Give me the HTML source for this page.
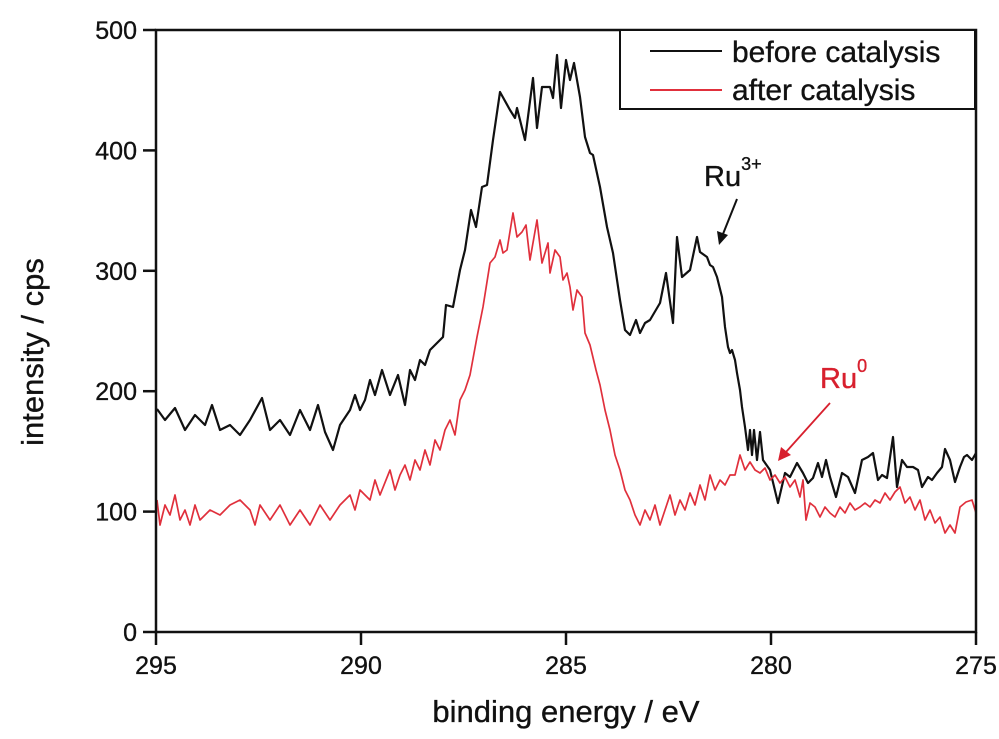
<!DOCTYPE html>
<html>
<head>
<meta charset="utf-8">
<style>
  html,body{margin:0;padding:0;background:#fff;}
  svg{display:block;}
  text{font-family:"Liberation Sans",Arial,sans-serif;fill:#111;stroke:#111;stroke-width:0.35px;}
</style>
</head>
<body>
<svg width="999" height="739" viewBox="0 0 999 739" xmlns="http://www.w3.org/2000/svg">
  <rect width="999" height="739" fill="#fff"/>

  <!-- series: before catalysis -->
  <polyline fill="none" stroke="#111" stroke-width="2.2" stroke-linejoin="round" points="157,409 165,420 175,408 185,430 195,415 205,425 212,405 220,430 230,425 240,435 250,420 262,398 270,430 280,420 290,435 300,410 310,430 318,405 325,432 333,450 340,425 350,410 355,395 360,410 365,400 370,380 375,395 382,370 390,395 398,375 405,405 410,370 415,380 420,360 425,365 430,350 435,345 440,340 443,337 446,305 453,307 460,270 465,250 471,210 476,227 482,187 487,185 493,140 500,92 510,110 515,118 517,108 525,140 533,78 537,128 542,87 550,87 553,98 557,55 561,108 566,60 570,80 574,63 580,97 585,137 590,153 593,155 600,187 607,227 613,253 620,300 625,330 630,335 636,320 640,333 645,323 650,320 660,303 666,273 673,323 677,237 682,277 690,270 697,237 700,252 707,257 710,265 713,267 717,277 722,297 725,327 728,347 730,353 732,350 735,360 737,373 740,390 742,407 745,427 748,450 750,430 752,455 754,430 757,460 760,432 763,460 770,470 778,503 785,473 790,477 797,463 803,473 808,483 813,478 818,463 822,477 826,460 830,477 836,497 842,473 848,477 855,493 862,460 868,457 873,453 878,480 882,475 887,478 893,437 897,487 902,460 907,467 913,467 918,470 922,487 928,477 932,480 937,473 942,467 945,449 950,460 955,482 960,467 964,457 967,455 972,460 976,453"/>

  <!-- series: after catalysis -->
  <polyline fill="none" stroke="#e0303c" stroke-width="1.7" stroke-linejoin="round" points="157,500 160,525 165,505 170,515 175,495 180,520 185,510 190,525 195,505 200,520 210,510 220,515 230,505 240,500 250,510 255,525 260,505 270,520 280,505 290,525 300,510 310,525 320,505 330,520 340,505 350,495 355,510 360,490 370,500 375,480 380,495 390,470 395,490 400,475 405,465 410,480 415,460 420,470 425,450 430,465 435,440 440,450 445,430 450,420 455,435 460,400 465,390 470,375 477,337 483,307 490,263 495,257 500,240 503,253 507,250 513,213 517,237 522,232 526,225 530,260 537,220 542,263 548,243 550,273 555,250 560,257 563,280 567,273 570,287 573,310 577,290 582,297 585,333 590,345 596,370 600,385 605,410 610,430 615,455 620,470 625,490 630,500 635,515 640,525 645,510 650,520 655,505 660,525 665,510 670,495 675,515 680,500 685,510 690,493 695,505 700,485 705,500 710,475 715,490 720,480 725,485 730,475 735,475 740,455 745,470 750,462 755,470 760,473 765,468 770,480 775,475 780,483 785,477 790,487 795,480 800,497 803,480 806,520 810,503 815,507 820,517 825,507 830,513 835,517 840,507 845,513 850,503 855,510 860,507 865,503 870,507 875,500 880,503 885,493 890,500 895,492 900,487 905,503 910,497 915,510 920,500 925,520 930,510 935,523 940,517 945,533 950,525 955,533 960,507 966,502 972,500 976,513"/>

  <!-- frame -->
  <rect x="156" y="30" width="820" height="602" fill="none" stroke="#111" stroke-width="2.5"/>

  <!-- y ticks -->
  <g stroke="#111" stroke-width="2.5">
    <line x1="143" y1="632" x2="156" y2="632"/>
    <line x1="143" y1="511.6" x2="156" y2="511.6"/>
    <line x1="143" y1="391.2" x2="156" y2="391.2"/>
    <line x1="143" y1="270.8" x2="156" y2="270.8"/>
    <line x1="143" y1="150.4" x2="156" y2="150.4"/>
    <line x1="143" y1="30" x2="156" y2="30"/>
  </g>
  <g font-size="25" text-anchor="end">
    <text x="137" y="641">0</text>
    <text x="137" y="520.6">100</text>
    <text x="137" y="400.2">200</text>
    <text x="137" y="279.8">300</text>
    <text x="137" y="159.4">400</text>
    <text x="137" y="39">500</text>
  </g>

  <!-- x ticks -->
  <g stroke="#111" stroke-width="2.5">
    <line x1="156" y1="632" x2="156" y2="645"/>
    <line x1="361" y1="632" x2="361" y2="645"/>
    <line x1="566" y1="632" x2="566" y2="645"/>
    <line x1="771" y1="632" x2="771" y2="645"/>
    <line x1="976" y1="632" x2="976" y2="645"/>
  </g>
  <g font-size="25" text-anchor="middle">
    <text x="156" y="674">295</text>
    <text x="361" y="674">290</text>
    <text x="566" y="674">285</text>
    <text x="771" y="674">280</text>
    <text x="976" y="674">275</text>
  </g>

  <!-- axis titles -->
  <text x="566" y="722" font-size="31" text-anchor="middle">binding energy / eV</text>
  <text transform="translate(43,352) rotate(-90)" font-size="31" text-anchor="middle">intensity / cps</text>

  <!-- legend -->
  <rect x="620" y="30" width="355" height="79" fill="#fff" stroke="#111" stroke-width="2"/>
  <line x1="650" y1="51" x2="722" y2="51" stroke="#111" stroke-width="2"/>
  <line x1="650" y1="90" x2="722" y2="90" stroke="#e0303c" stroke-width="2"/>
  <text x="732" y="62" font-size="30">before catalysis</text>
  <text x="732" y="100" font-size="30">after catalysis</text>

  <!-- Ru3+ annotation -->
  <text x="704" y="186" font-size="29">Ru<tspan font-size="18" dy="-16">3+</tspan></text>
  <line x1="737" y1="199" x2="723" y2="234" stroke="#111" stroke-width="2"/>
  <polygon points="719,245 717,231 728,235" fill="#111"/>

  <!-- Ru0 annotation -->
  <text x="820" y="388" font-size="29" style="fill:#d8202e;stroke:#d8202e">Ru<tspan font-size="18" dy="-16" style="fill:#d8202e;stroke:#d8202e">0</tspan></text>
  <line x1="830" y1="403" x2="786" y2="452" stroke="#d8202e" stroke-width="1.8"/>
  <polygon points="778,461 781,447 791,455" fill="#d8202e"/>
</svg>
</body>
</html>
